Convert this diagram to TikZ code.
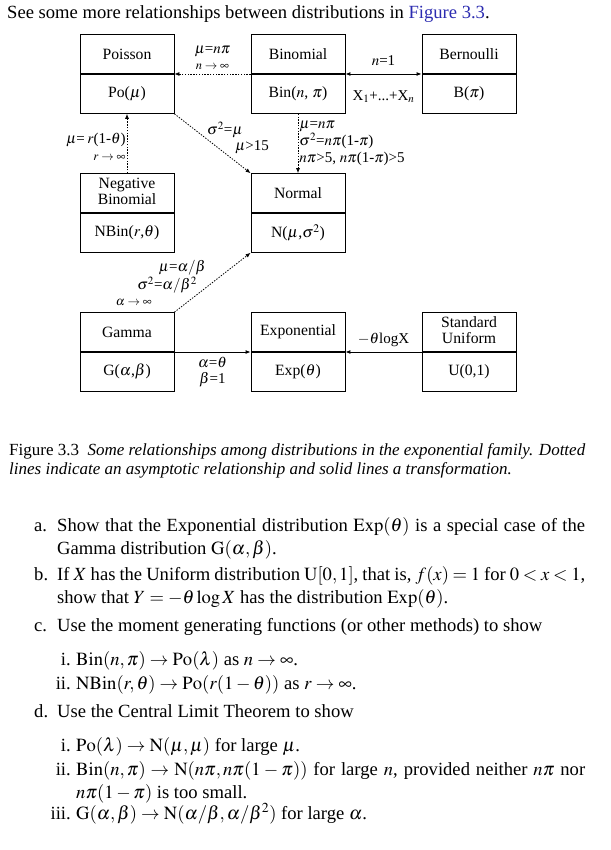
\documentclass[tikz,border=0pt]{standalone}
\usepackage{mathptmx}
\usepackage[no-math]{fontspec}
\setmainfont{Liberation Serif}
\usepackage{xcolor}
\usetikzlibrary{arrows.meta,positioning}
\definecolor{figlink}{HTML}{2B2BB0}
\newcommand{\boxfont}{\fontsize{15.7}{16.5}\selectfont}
\newcommand{\labfont}{\fontsize{15}{17}\selectfont}
\newcommand{\labsmall}{\fontsize{12.5}{13}\selectfont}
\newcommand{\bodyfont}{\fontsize{18.6}{23}\selectfont}
\newcommand{\capfont}{\fontsize{17}{19}\selectfont}
\tikzset{
  >={Latex[length=5pt,width=4pt]},
  distname/.style={draw, line width=0.8pt, minimum width=94pt, minimum height=39pt,
                   inner sep=1pt, align=center, font=\boxfont, anchor=south},
  distform/.style={distname, anchor=north},
  asym/.style={->, line width=0.8pt, dash pattern=on 1.4pt off 1.4pt},
  trans/.style={->, line width=0.9pt},
  lab/.style={font=\labfont, inner sep=1pt, align=left},
  bodyline/.style={anchor=base west, font=\bodyfont, inner sep=0pt},
  bodytext/.style={bodyline, text width=528pt, align=justify},
  itemlet/.style={anchor=base west, font=\bodyfont, inner sep=0pt},
  itemrom/.style={anchor=base east, font=\bodyfont, inner sep=0pt},
  captext/.style={anchor=base west, font=\capfont, inner sep=0pt, text width=576pt, align=justify},
}

\begin{document}
\begin{tikzpicture}[x=1pt, y=-1pt]
\useasboundingbox (0,0) rectangle (610,850);

% lead-in sentence
\node[bodyline] (intro) at (7,19) {See some more relationships between distributions in {\color{figlink}Figure 3.3}.};

% distribution boxes: name on top, notation below
\node[distname] (pois) at (127,74) {Poisson};
\node[distform] (poisf) at (pois.south) {Po($\mu$)};
\node[distname] (bin) at (298,74) {Binomial};
\node[distform] (binf) at (bin.south) {Bin($n$, $\pi$)};
\node[distname] (bern) at (469,74) {Bernoulli};
\node[distform] (bernf) at (bern.south) {B($\pi$)};

\node[distname, text depth=4pt] (nbin) at (127,213) {\fontsize{15.7}{15}\selectfont Negative\\Binomial};
\node[distform] (nbinf) at (nbin.south) {NBin($r$,$\theta$)};
\node[distname] (norm) at (298,213) {Normal};
\node[distform] (normf) at (norm.south) {N($\mu$,$\sigma^2$)};

\node[distname] (gam) at (127,352) {Gamma};
\node[distform] (gamf) at (gam.south) {G($\alpha$,$\beta$)};
\node[distname] (expo) at (298,352) {Exponential};
\node[distform] (expof) at (expo.south) {Exp($\theta$)};
\node[distname, text depth=4pt] (unif) at (469,352) {\fontsize{15.7}{15}\selectfont Standard\\Uniform};
\node[distform] (uniff) at (unif.south) {U(0,1)};

% asymptotic relationships (dotted)
\draw[asym] (bin.south west) -- node[lab, above=3pt, align=center] (lbinpois)
  {$\mu$=$n\pi$\\[-1pt]{\labsmall$n\to\infty$}} (pois.south east);
\draw[asym] (nbin.north) -- node[lab, left, align=right, yshift=-3pt] (lnbin)
  {$\mu$=\,$r$(1-$\theta$)\\{\labsmall$r\to\infty$}} (poisf.south);
\draw[asym] (poisf.south east) -- (norm.north west);
\node[lab, anchor=west] (lpn1) at (206,130) {$\sigma^2$=$\mu$};
\node[lab, anchor=west] (lpn2) at (234,147) {$\mu$>15};
\draw[asym] (binf.south) -- node[lab, right] (lbinnorm)
  {$\mu$=$n\pi$\\$\sigma^2$=$n\pi$(1-$\pi$)\\$n\pi$>5, $n\pi$(1-$\pi$)>5} (norm.north);
\draw[asym] (gam.north east) -- (normf.south west);
\node[lab, anchor=east] (lgn1) at (207,268) {$\mu$=$\alpha/\beta$};
\node[lab, anchor=east] (lgn2) at (198,285) {$\sigma^2$=$\alpha/\beta^2$};
\node[lab, anchor=east] (lgn3) at (153,303) {\labsmall$\alpha\to\infty$};

% transformations (solid)
\draw[trans, <->] (bin.south east) -- node[lab, above=7pt] (lbern) {$n$=1}
  node[lab, below=15pt] (lsum) {X$_1$+...+X$_n$} (bern.south west);
\draw[trans] (gam.south east) -- node[lab, below=4pt, align=center] (lgamexp)
  {$\alpha$=$\theta$\\[-1pt]$\beta$=1} (expo.south west);
\draw[trans] (unif.south west) -- node[lab, above=4pt] (lunif) {$-\theta$logX} (expo.south east);

% caption
\node[captext] (cap) at (9,455) {Figure 3.3\enspace{\itshape Some relationships among distributions in the exponential family. Dotted\linebreak lines indicate an asymptotic relationship and solid lines a transformation.}};

% exercises
\node[itemlet] (ma) at (34,531) {a.};
\node[bodytext] (ta) at (57,531) {Show that the Exponential distribution $\mathrm{Exp}(\theta)$ is a special case of the\linebreak Gamma distribution $\mathrm{G}(\alpha,\beta)$.};
\node[itemlet] (mb) at (34,580) {b.};
\node[bodytext] (tb) at (57,580) {If $X$ has the Uniform distribution $\mathrm{U}[0,1]$, that is, $f(x)=1$ for $0<x<1$,\linebreak show that $Y=-\theta\log X$ has the distribution $\mathrm{Exp}(\theta)$.};
\node[itemlet] (mc) at (34,631) {c.};
\node[bodyline] (tc) at (57,631) {Use the moment generating functions (or other methods) to show};
\node[itemrom] (mci) at (71,665) {i.};
\node[bodyline] (tci) at (76,665) {$\mathrm{Bin}(n,\pi)\rightarrow\mathrm{Po}(\lambda)$ as $n\rightarrow\infty$.};
\node[itemrom] (mcii) at (71,689) {ii.};
\node[bodyline] (tcii) at (76,689) {$\mathrm{NBin}(r,\theta)\rightarrow\mathrm{Po}(r(1-\theta))$ as $r\rightarrow\infty$.};
\node[itemlet] (md) at (34,717) {d.};
\node[bodyline] (td) at (57,717) {Use the Central Limit Theorem to show};
\node[itemrom] (mdi) at (71,751) {i.};
\node[bodyline] (tdi) at (76,751) {$\mathrm{Po}(\lambda)\rightarrow\mathrm{N}(\mu,\mu)$ for large $\mu$.};
\node[itemrom] (mdii) at (71,775) {ii.};
\node[bodytext, text width=509pt] (tdii) at (76,775) {$\mathrm{Bin}(n,\pi)\rightarrow\mathrm{N}(n\pi,n\pi(1-\pi))$ for large $n$, provided neither $n\pi$ nor\linebreak $n\pi(1-\pi)$ is too small.};
\node[itemrom] (mdiii) at (71,819) {iii.};
\node[bodyline] (tdiii) at (76,819) {$\mathrm{G}(\alpha,\beta)\rightarrow\mathrm{N}(\alpha/\beta,\alpha/\beta^2)$ for large $\alpha$.};
\end{tikzpicture}
\end{document}
